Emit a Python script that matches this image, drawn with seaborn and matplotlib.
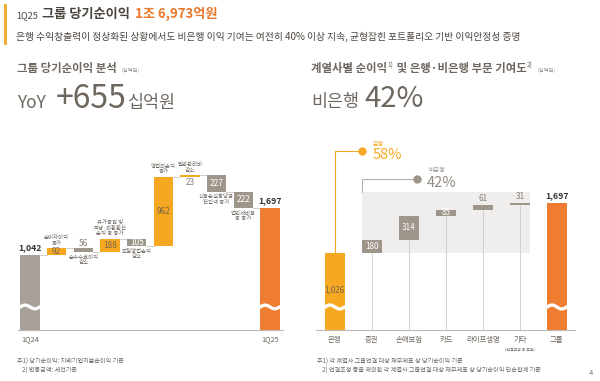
import numpy as np
import pandas as pd
import matplotlib
matplotlib.use('Agg')
import matplotlib.pyplot as plt
from matplotlib.patches import Rectangle
import seaborn as sns

# ---- data: group net income waterfall (KRW bn) ----
steps = ['1Q24', '순이자이익 증가', '순수수료이익 감소', '유가증권 및 파생·외환환산 손익 등 증가',
         '보험영업손익 감소', '영업외손익 증가', '일반관리비 감소', '신용손실충당금 전입액 증가',
         '법인세비용 등 증가', '1Q25']
step_values = [1042, 92, -56, 188, -105, 962, 23, -227, -222, 1697]
step_desc = ['', '순이자이익\n증가', '순수수료이익\n감소', '유가증권 및\n파생·외환환산\n손익 등 증가',
             '보험영업손익\n감소', '영업외손익\n증가', '일반관리비\n감소', '신용손실충당금\n전입액 증가',
             '법인세비용\n등 증가', '']
step_ticks = ['1Q24', '', '', '', '', '', '', '', '', '1Q25']

# ---- data: net income by subsidiary (KRW bn) ----
companies = ['은행', '증권', '손해보험', '카드', '라이프생명', '기타', '그룹']
company_profit = [1026, 180, 314, 85, 61, 31, 1697]
bank_share = 58
nonbank_share = 42
yoy_change = 655

# ---- style ----
W, H = 600, 381
C_TXT = '#4a443f'
C_GRAY_TXT = '#6e6760'
C_YEL = '#F6A823'
C_ORG = '#EE7D31'
C_DEC = '#9E958B'
C_BASE = '#A8A19A'
C_LINE = '#C9C4BF'

sns.set_theme(style='white')
plt.rcParams['font.family'] = ['Noto Sans CJK KR', 'DejaVu Sans']

fig = plt.figure(figsize=(6, 3.81), dpi=100)
fig.patch.set_facecolor('white')


def fx(x):
    return x / W


def fy(y):
    return 1 - y / H


def row(x, y, parts):
    # place text pieces one after another on a shared baseline (pixels)
    r = fig.canvas.get_renderer()
    for s, kw in parts:
        dy = kw.pop('dy', 0)
        gap = kw.pop('gap', 0)
        x += gap
        t = fig.text(fx(x), fy(y + dy), s, va='baseline', ha='left', **kw)
        x = t.get_window_extent(r).x1


def wave(ax, xc, w, yv, amp):
    xs = np.linspace(xc - w / 2 - 0.03, xc + w / 2 + 0.03, 40)
    ys = yv + amp * np.sin((xs - (xc - w / 2)) / w * 2 * np.pi)
    ax.plot(xs, ys, color='white', lw=2.4, solid_capstyle='butt', zorder=5)


# ---- header ----
fig.add_artist(Rectangle((fx(4), fy(45)), 2.5 / W, 41 / H, transform=fig.transFigure,
                         color='#F3AE3A', lw=0))
row(16, 18, [('1Q25', dict(fontsize=6.5, color=C_TXT)),
             ('그룹 당기순이익', dict(fontsize=9.5, color=C_TXT, fontweight='bold', gap=4)),
             ('1조 6,973억원', dict(fontsize=9.5, color='#E8782B', fontweight='bold', gap=5))])
fig.text(fx(16), fy(37), '은행 수익창출력이 정상화된 상황에서도 비은행 이익 기여는 여전히 40% 이상 지속, '
         '균형잡힌 포트폴리오 기반 이익안정성 증명', fontsize=7.0, color=C_TXT, va='center')

# ---- panel headers ----
row(17, 72, [('그룹 당기순이익 분석', dict(fontsize=8.2, color=C_GRAY_TXT, fontweight='bold')),
             ('(십억원)', dict(fontsize=3.8, color='#9a938c', gap=5))])
row(17, 108, [('YoY', dict(fontsize=12.5, color=C_GRAY_TXT)),
              (f'+{yoy_change}', dict(fontsize=23, color=C_GRAY_TXT, fontweight='medium', gap=10)),
              ('십억원', dict(fontsize=12.5, color=C_GRAY_TXT, fontweight='medium'))])
row(311, 72, [('계열사별 순이익', dict(fontsize=8.2, color=C_GRAY_TXT, fontweight='bold')),
              ('1)', dict(fontsize=4.8, color=C_GRAY_TXT, dy=-4, gap=0.5)),
              (' 및 은행·비은행 부문 기여도', dict(fontsize=8.2, color=C_GRAY_TXT, fontweight='bold')),
              ('2)', dict(fontsize=4.8, color=C_GRAY_TXT, dy=-4, gap=0.5)),
              ('(십억원)', dict(fontsize=3.8, color='#9a938c', gap=5))])
row(311, 107, [('비은행', dict(fontsize=12.5, color=C_GRAY_TXT, fontweight='medium')),
               (f'{nonbank_share}%', dict(fontsize=21, color=C_GRAY_TXT, fontweight='medium', gap=5))])

# ---- left: waterfall ----
ax1 = fig.add_axes([fx(18), fy(330), 265 / W, 180 / H])
n = len(step_values)
bottoms, heights, colors, tops = [], [], [], []
run = 0
for i, v in enumerate(step_values):
    if i == 0:
        b, h, c = 0, v, C_BASE
        run = v
    elif i == n - 1:
        b, h, c = 0, v, C_ORG
    else:
        b = run if v > 0 else run + v
        h = abs(v)
        c = C_YEL if v > 0 else C_DEC
        run += v
    bottoms.append(b)
    heights.append(h)
    colors.append(c)
    tops.append(b + h)

df1 = pd.DataFrame({'step': steps, 'h': heights})
bw1 = 0.73
sns.barplot(data=df1, x='step', y='h', hue='step', palette=colors, legend=False,
            width=bw1, saturation=1, linewidth=0, ax=ax1, zorder=3)
for p, b in zip(ax1.patches, bottoms):
    p.set_y(b)

# connectors
levels = [tops[0]]
run = step_values[0]
for v in step_values[1:-1]:
    run += v
    levels.append(run)
for i in range(n - 1):
    ax1.plot([i + bw1 / 2, i + 1 - bw1 / 2], [levels[i], levels[i]], color=C_LINE, lw=0.6, zorder=2)

# labels
val_pos = ['above', 'in', 'above', 'in', 'in', 'in', 'below', 'in', 'in', 'above']
desc_pos = ['', 'above', 'below', 'above', 'below', 'above', 'above', 'below', 'below', '']
for i, v in enumerate(step_values):
    txt = f'{abs(v):,}'
    if i in (0, n - 1):
        ax1.annotate(txt, (i, tops[i]), xytext=(0, 2), textcoords='offset points', ha='center',
                     va='bottom', fontsize=6.3, fontweight='bold', color='#333333', zorder=6)
        continue
    pos = val_pos[i]
    if pos == 'in':
        col = '#7b6648' if step_values[i] > 0 else 'white'
        ax1.text(i, bottoms[i] + heights[i] / 2, txt, ha='center', va='center', fontsize=6,
                 color=col, zorder=6)
        off_up, off_dn = 1.8, -1.8
    elif pos == 'above':
        ax1.annotate(txt, (i, tops[i]), xytext=(0, 0.5), textcoords='offset points', ha='center',
                     va='bottom', fontsize=6, color='#857d75', zorder=6)
        off_up, off_dn = 9, -1.8
    else:
        ax1.annotate(txt, (i, bottoms[i]), xytext=(0, -0.5), textcoords='offset points', ha='center',
                     va='top', fontsize=6, color='#857d75', zorder=6)
        off_up, off_dn = 1.8, -9
    if desc_pos[i] == 'above':
        ax1.annotate(step_desc[i], (i, tops[i]), xytext=(0, off_up), textcoords='offset points',
                     ha='center', va='bottom', fontsize=3.9, color=C_GRAY_TXT, linespacing=1.15)
    else:
        ax1.annotate(step_desc[i], (i, bottoms[i]), xytext=(0, off_dn), textcoords='offset points',
                     ha='center', va='top', fontsize=3.9, color=C_GRAY_TXT, linespacing=1.15)

for i in (0, n - 1):
    wave(ax1, i, bw1, 320, 25)

ax1.set_xlim(-0.45, 9.49)
ax1.set_ylim(0, 2497)
ax1.set_xticks(range(n))
ax1.set_xticklabels(step_ticks)
ax1.set_yticks([])
ax1.set_xlabel('')
ax1.set_ylabel('')
ax1.tick_params(axis='x', length=0, pad=4, labelsize=5.3, labelcolor=C_GRAY_TXT)
for s in ('top', 'left', 'right'):
    ax1.spines[s].set_visible(False)
ax1.spines['bottom'].set_color('#BDB8B3')
ax1.spines['bottom'].set_linewidth(0.8)
ax1.patch.set_alpha(0)

# ---- right: contribution by subsidiary ----
ax2 = fig.add_axes([fx(316), fy(330), 259 / W, 200 / H])
m = len(company_profit)
bw2 = 0.53
c_bottoms, c_colors = [], []
run = 0
for i, v in enumerate(company_profit):
    if i == m - 1:
        c_bottoms.append(0)
        c_colors.append(C_ORG)
    else:
        c_bottoms.append(run)
        c_colors.append(C_YEL if i == 0 else C_DEC)
        run += v

df2 = pd.DataFrame({'company': companies, 'profit': company_profit})
sns.barplot(data=df2, x='company', y='profit', hue='company', palette=c_colors, legend=False,
            width=bw2, saturation=1, linewidth=0, ax=ax2, zorder=3)
for p, b in zip(ax2.patches, c_bottoms):
    p.set_y(b)

# non-bank shaded area
bank_top = company_profit[0]
shade_top = 1840
ax2.add_patch(Rectangle((1 - bw2 / 2, bank_top), (m - 3) + bw2, shade_top - bank_top,
                        color='#EFEEEC', lw=0, zorder=0))
# drop lines for non-bank bars
for i in range(1, m - 1):
    ax2.plot([i, i], [0, c_bottoms[i]], color='#D3CFCB', lw=0.7, zorder=1)

# bank bracket
bank_lvl = 2387
ax2.plot([0, 0, 1 - bw2 / 2], [bank_top, bank_lvl, bank_lvl], color=C_YEL, lw=0.8, zorder=2)
ax2.plot([1 - bw2 / 2], [bank_lvl], 'o', color=C_YEL, ms=5, zorder=4)
ax2.text(1.03, 2480, '은행', fontsize=4.3, color=C_YEL, va='center', ha='left')
ax2.text(1.01, 2330, f'{bank_share}%', fontsize=10.5, color=C_YEL, va='center', ha='left')
# non-bank bracket
nb_lvl = 2013
ax2.plot([1 - bw2 / 2, 1 - bw2 / 2, 2.21], [shade_top, nb_lvl, nb_lvl], color='#B5AEA8', lw=0.8,
         zorder=2)
ax2.plot([2.21], [nb_lvl], 'o', color=C_DEC, ms=5, zorder=4)
ax2.text(2.52, 2122, '비은행', fontsize=4.3, color='#9a918a', va='center', ha='left')
ax2.text(2.49, 1962, f'{nonbank_share}%', fontsize=10.5, color='#938a82', va='center', ha='left')

# value labels
for i, v in enumerate(company_profit):
    txt = f'{v:,}'
    top = c_bottoms[i] + v
    if i == m - 1:
        ax2.annotate(txt, (i, top), xytext=(0, 2), textcoords='offset points', ha='center',
                     va='bottom', fontsize=6.3, fontweight='bold', color='#333333', zorder=6)
    elif i == 0:
        ax2.text(i, c_bottoms[i] + v * 0.52, txt, ha='center', va='center', fontsize=5.8,
                 color='#7b6648', zorder=6)
    elif v >= 80:
        ax2.text(i, c_bottoms[i] + v / 2, txt, ha='center', va='center', fontsize=5.8,
                 color='white', zorder=6)
    else:
        ax2.annotate(txt, (i, top), xytext=(0, 1.5), textcoords='offset points', ha='center',
                     va='bottom', fontsize=5.8, color='#857d75', zorder=6)

for i in (0, m - 1):
    wave(ax2, i, bw2, 307, 26)

ax2.annotate('(연결조정 등 포함)', (5, 0), xytext=(0, -12.5), textcoords='offset points',
             ha='center', va='top', fontsize=2.8, color=C_GRAY_TXT)

ax2.set_xlim(-0.51, 6.49)
ax2.set_ylim(0, 2667)
ax2.set_yticks([])
ax2.set_xlabel('')
ax2.set_ylabel('')
ax2.tick_params(axis='x', length=0, pad=4, labelsize=5.3, labelcolor=C_GRAY_TXT)
for s in ('top', 'left', 'right'):
    ax2.spines[s].set_visible(False)
ax2.spines['bottom'].set_color('#BDB8B3')
ax2.spines['bottom'].set_linewidth(0.8)
ax2.patch.set_alpha(0)

# ---- footnotes ----
fn = dict(fontsize=4.4, color=C_GRAY_TXT, va='center', ha='left')
fig.text(fx(17), fy(362), '주1) 당기순이익: 지배기업지분순이익 기준', **fn)
fig.text(fx(22), fy(371), '2) 변동금액: 세전기준', **fn)
fig.text(fx(317), fy(362), '주1) 각 계열사 그룹연결 대상 재무제표 상 당기순이익 기준', **fn)
fig.text(fx(322), fy(371), '2) 연결조정 등을 제외한 각 계열사 그룹연결 대상 재무제표 상 당기순이익 단순합계 기준', **fn)
fig.text(fx(591), fy(373), '4', fontsize=5.5, color='#777777', va='center', ha='center')

fig.savefig('out.png', dpi=100)
